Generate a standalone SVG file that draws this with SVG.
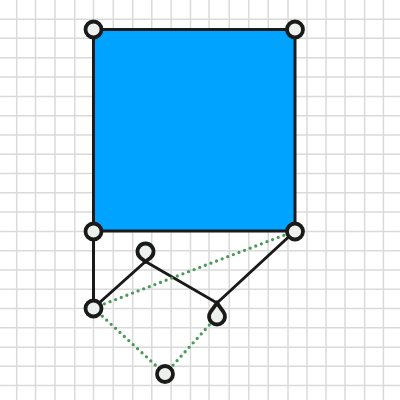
<svg xmlns="http://www.w3.org/2000/svg" width="400" height="400" viewBox="0 0 400 400">
<style>
.grid{stroke:#dadada;stroke-width:1.5;fill:none}
.edge{stroke:#1a1a1a;stroke-width:3;fill:none;stroke-linejoin:miter}
.dot{stroke:#4a9a5a;stroke-width:3.3;fill:none;stroke-linecap:round;stroke-dasharray:0 6}
.node{fill:#edf1ed;stroke:#1a1a1a;stroke-width:3.8;stroke-linejoin:miter}
</style>
<rect width="400" height="400" fill="#ffffff"/>
<path class="grid" d="M16.7 0V400M35.5 0V400M55 0V400M74.8 0V400M93.5 0V400M113.3 0V400M132.7 0V400M151.8 0V400M171.1 0V400M190.5 0V400M209 0V400M229.2 0V400M248.8 0V400M268.2 0V400M288 0V400M307 0V400M326 0V400M345 0V400M364.6 0V400M383.4 0V400M0 19.3H400M0 38.3H400M0 57.7H400M0 77.1H400M0 96.4H400M0 115.7H400M0 135H400M0 154.3H400M0 173.5H400M0 192.8H400M0 212.1H400M0 231.4H400M0 250.7H400M0 269.9H400M0 289.2H400M0 308.5H400M0 327.8H400M0 347.2H400M0 366.2H400M0 385.6H400"/>
<g id="square">
<rect x="93.5" y="29.5" width="201.5" height="201.5" fill="#00a3ff" stroke="#1a1a1a" stroke-width="3"/>
</g>
<g id="connectors">
<path class="edge" d="M93.5 231V308"/>
<path class="edge" d="M93.5 308L145.5 261.5L217 303L295 231"/>
<path class="dot" d="M295 231L93.5 308"/>
<path class="dot" d="M93.5 308L165 374"/>
<path class="dot" d="M165 374L217 316.5"/>
</g>
<g id="n1"><circle class="node" cx="93.5" cy="29.5" r="8"/></g>
<g id="n2"><circle class="node" cx="295" cy="29.5" r="8"/></g>
<g id="n3"><circle class="node" cx="93.5" cy="231.5" r="8"/></g>
<g id="n4"><circle class="node" cx="295" cy="231.5" r="8"/></g>
<g id="n5"><path class="node" d="M145.5 261.5L150.3 257.9A8 8 0 1 0 140.7 257.9Z"/></g>
<g id="n6"><circle class="node" cx="93.5" cy="308.5" r="8"/></g>
<g id="n7"><path class="node" d="M217 303L223.44 311.76A8 8 0 1 1 210.56 311.76Z"/></g>
<g id="n8"><circle class="node" cx="165" cy="374" r="8"/></g>
</svg>
